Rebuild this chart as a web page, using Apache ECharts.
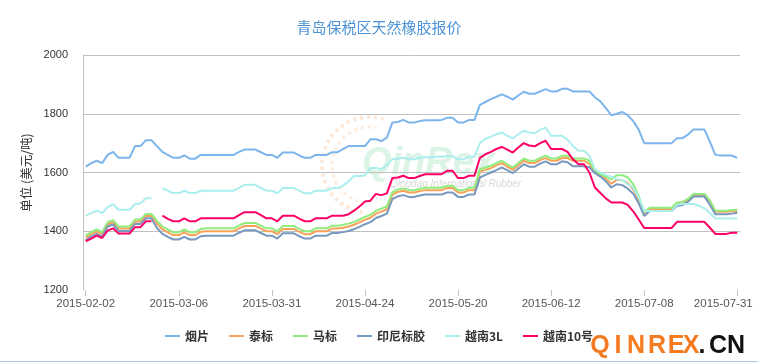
<!DOCTYPE html>
<html>
<head>
<meta charset="utf-8">
<script src="https://cdn.jsdelivr.net/npm/echarts@6/dist/echarts.min.js"></script>
<style>
html,body{margin:0;padding:0;background:#fff;}
#chart{width:758px;height:362px;}
</style>
</head>
<body>
<div id="chart"></div>
<script>
const dates = [
'2015-02-02','2015-02-03','2015-02-04','2015-02-05','2015-02-06','2015-02-09','2015-02-10','2015-02-11','2015-02-12','2015-02-13',
'2015-02-25','2015-02-26','2015-02-27','2015-03-02','2015-03-03','2015-03-04','2015-03-05','2015-03-06',
'2015-03-09','2015-03-10','2015-03-11','2015-03-12','2015-03-13','2015-03-16','2015-03-17','2015-03-18','2015-03-19','2015-03-20',
'2015-03-23','2015-03-24','2015-03-25','2015-03-26','2015-03-27','2015-03-30','2015-03-31',
'2015-04-01','2015-04-02','2015-04-03','2015-04-07','2015-04-08','2015-04-09','2015-04-10','2015-04-13','2015-04-14','2015-04-15',
'2015-04-16','2015-04-17','2015-04-20','2015-04-21','2015-04-22','2015-04-23','2015-04-24',
'2015-04-27','2015-04-28','2015-04-29','2015-04-30','2015-05-04','2015-05-05','2015-05-06','2015-05-07','2015-05-08',
'2015-05-11','2015-05-12','2015-05-13','2015-05-14','2015-05-15','2015-05-18','2015-05-19','2015-05-20',
'2015-05-21','2015-05-22','2015-05-25','2015-05-26','2015-05-27','2015-05-28','2015-05-29','2015-06-01','2015-06-02',
'2015-06-03','2015-06-04','2015-06-05','2015-06-08','2015-06-09','2015-06-10','2015-06-11','2015-06-12',
'2015-06-15','2015-06-16','2015-06-17','2015-06-18','2015-06-19','2015-06-23','2015-06-24','2015-06-25','2015-06-26',
'2015-06-29','2015-06-30','2015-07-01','2015-07-02','2015-07-03','2015-07-06','2015-07-07','2015-07-08',
'2015-07-09','2015-07-10','2015-07-13','2015-07-14','2015-07-15','2015-07-16','2015-07-17','2015-07-20','2015-07-21',
'2015-07-22','2015-07-23','2015-07-24','2015-07-27','2015-07-28','2015-07-29','2015-07-30','2015-07-31'
];

const seriesNames = ['烟片','泰标','马标','印尼标胶','越南3L','越南10号'];
const yAxisTicks = [1200, 1400, 1600, 1800, 2000];

const yanpian = [
1620,1632,1640,1632,1660,1670,1650,1650,1650,1690,1690,1710,1710,1690,1670,1660,1650,1650,
1658,1647,1647,1660,1660,1660,1660,1660,1660,1660,1670,1678,1678,1678,1669,1660,1660,
1650,1668,1668,1668,1658,1650,1650,1660,1660,1660,1669,1669,1680,1690,1690,1690,1690,
1713,1713,1707,1719,1770,1772,1779,1770,1770,1775,1778,1778,1778,1779,1786,1786,1770,
1770,1779,1779,1830,1840,1850,1858,1866,1858,1848,1862,1875,1868,1868,1876,1884,1876,
1876,1885,1885,1876,1876,1876,1876,1856,1842,1819,1795,1800,1806,1795,1775,1746,1700,
1700,1700,1700,1700,1700,1717,1717,1729,1746,1746,1746,1705,1660,1658,1658,1658,1650
];
const taibiao = [
1378,1390,1399,1390,1424,1431,1409,1409,1409,1433,1433,1452,1452,1426,1406,1396,1387,1387,
1396,1387,1387,1398,1400,1400,1400,1400,1400,1400,1410,1418,1418,1418,1409,1400,1400,
1390,1408,1408,1408,1398,1390,1390,1400,1400,1400,1409,1409,1412,1416,1422,1430,1439,
1446,1460,1467,1475,1524,1534,1538,1532,1532,1537,1540,1540,1540,1540,1547,1547,1532,
1532,1540,1540,1603,1609,1615,1624,1632,1620,1609,1624,1640,1632,1632,1642,1649,1640,
1640,1649,1649,1640,1640,1640,1629,1602,1590,1578,1562,1575,1574,1564,1544,1507,1461,
1476,1476,1476,1476,1476,1494,1496,1506,1523,1523,1523,1501,1466,1466,1466,1468,1469
];
const mabiao = [
1385,1397,1406,1397,1431,1438,1416,1416,1416,1440,1440,1459,1459,1436,1416,1406,1397,1397,
1406,1397,1397,1408,1410,1410,1410,1410,1410,1410,1420,1428,1428,1428,1419,1410,1410,
1400,1418,1418,1418,1408,1400,1400,1410,1410,1410,1419,1419,1422,1426,1432,1440,1449,
1456,1470,1477,1485,1532,1542,1546,1540,1540,1545,1548,1548,1548,1548,1555,1555,1540,
1540,1548,1548,1611,1617,1623,1632,1640,1628,1617,1632,1648,1640,1640,1650,1657,1648,
1648,1657,1657,1648,1648,1648,1640,1606,1594,1586,1576,1591,1591,1583,1560,1520,1465,
1480,1480,1480,1480,1480,1498,1500,1510,1527,1527,1527,1505,1470,1470,1470,1472,1473
];
const yinni = [
1370,1382,1391,1382,1416,1423,1401,1401,1401,1425,1425,1444,1444,1411,1391,1381,1372,1372,
1381,1372,1372,1383,1385,1385,1385,1385,1385,1385,1395,1403,1403,1403,1394,1385,1385,
1375,1393,1393,1393,1383,1375,1375,1385,1385,1385,1394,1394,1397,1401,1407,1415,1424,
1431,1445,1452,1460,1509,1519,1523,1517,1517,1522,1525,1525,1525,1525,1532,1532,1517,
1517,1525,1525,1583,1592,1600,1608,1617,1608,1598,1613,1628,1620,1620,1630,1638,1628,
1628,1638,1635,1621,1621,1621,1618,1598,1586,1570,1549,1560,1557,1545,1528,1495,1452,
1469,1469,1469,1469,1469,1486,1489,1500,1518,1518,1518,1490,1458,1458,1458,1460,1463
];
const yuenan3L = [
1453,1462,1470,1462,1482,1492,1473,1473,1473,1492,1495,1512,1512,null,1547,1538,1530,1530,
1538,1530,1530,1538,1538,1538,1538,1538,1538,1538,1548,1558,1558,1558,1548,1538,1538,
1529,1547,1547,1547,1538,1529,1529,1538,1538,1538,1547,1547,1555,1570,1588,1588,1590,
1615,1615,1612,1626,1645,1647,1650,1645,1645,1650,1652,1652,1654,1654,1656,1656,1645,
1645,1654,1654,1700,1715,1722,1730,1736,1725,1716,1730,1742,1736,1734,1745,1753,1725,
1725,1725,1712,1690,1674,1674,1657,1611,1600,1592,1586,1577,1574,1560,1549,1515,1469,
1469,1469,1469,1469,1469,1490,1493,1493,1493,1487,1478,1462,1443,1443,1443,1443,1443
];
const yuenan10 = [
1366,1375,1385,1377,1402,1410,1392,1392,1392,1414,1414,1434,1434,null,1453,1442,1434,1434,
1444,1434,1434,1444,1444,1444,1444,1444,1444,1444,1455,1465,1465,1465,1455,1444,1444,
1434,1453,1453,1453,1443,1434,1434,1444,1444,1444,1453,1453,1453,1458,1470,1484,1501,
1504,1527,1523,1529,1581,1583,1589,1581,1581,1588,1594,1594,1594,1594,1606,1606,1581,
1581,1589,1589,1650,1662,1670,1680,1687,1678,1668,1685,1700,1692,1689,1700,1708,1680,
1680,1680,1670,1645,1628,1628,1600,1549,1530,1512,1498,1498,1498,1490,1468,1440,1411,
1411,1411,1411,1411,1411,1432,1432,1432,1432,1432,1432,1412,1391,1391,1391,1395,1395
];

const seriesData = [yanpian, taibiao, mabiao, yinni, yuenan3L, yuenan10];
const colors = ['#7cb5ec', '#f7a35c', '#90ed7d', '#7798bf', '#aaeeee', '#ff0066'];

const chart = echarts.init(document.getElementById('chart'), null, {renderer: 'canvas'});

const brand = ['Q','I','N','R','E','X','.','C','N'];
const brandX = [600, 618, 636, 657, 676, 691, 702, 718, 736];
const brandGraphics = brand.map((ch, i) => ({
  type: 'text',
  x: brandX[i], y: 346, z: 100,
  style: {
    text: ch,
    fill: i < 6 ? '#f47b20' : '#111',
    font: 'bold 25px "Liberation Sans", Arial, sans-serif',
    align: 'center', verticalAlign: 'middle'
  }
}));

const option = {
  animation: false,
  color: colors,
  textStyle: {fontFamily: '"Liberation Sans", "Noto Sans CJK SC", sans-serif'},
  title: {
    text: '青岛保税区天然橡胶报价',
    left: 'center',
    top: 15,
    textStyle: {fontSize: 15, fontWeight: 'normal', color: '#4b92d6', fontFamily: '"Noto Sans CJK SC", sans-serif'}
  },
  legend: {
    data: seriesNames,
    left: 'center',
    top: 325,
    icon: 'rect',
    itemWidth: 15,
    itemHeight: 2,
    itemGap: 20,
    textStyle: {fontSize: 12, fontWeight: 'bold', color: '#333', fontFamily: '"Noto Sans CJK SC", sans-serif'}
  },
  grid: {left: 83, right: 18, top: 55, bottom: 72, containLabel: false},
  xAxis: {
    type: 'category',
    boundaryGap: true,
    data: dates.map((d, i) => i === dates.length - 1 ? {value: d, textStyle: {padding: [0, 28, 0, 0]}} : d),
    axisLine: {show: false},
    axisTick: {show: true, alignWithLabel: true, interval: 16, length: 6, lineStyle: {color: '#c0c0c0'}},
    axisLabel: {interval: 16, fontSize: 11.5, color: '#555', margin: 8},
    splitLine: {show: false}
  },
  yAxis: {
    type: 'value',
    min: yAxisTicks[0],
    max: yAxisTicks[yAxisTicks.length - 1],
    interval: 200,
    name: '单位 (美元/吨)',
    nameLocation: 'middle',
    nameRotate: 90,
    nameGap: 46,
    nameTextStyle: {fontSize: 12.5, color: '#333', fontFamily: '"Noto Sans CJK SC", sans-serif'},
    axisLine: {show: true, lineStyle: {color: '#c0c0c0'}},
    axisTick: {show: false},
    axisLabel: {fontSize: 11, color: '#333', margin: 15, formatter: v => String(v)},
    splitLine: {show: true, lineStyle: {color: ['rgba(0,0,0,0)', '#c0c0c0', '#c0c0c0', '#c0c0c0', '#c0c0c0']}}
  },
  graphic: [
    {type: 'text', x: 362, y: 145, z: 0, silent: true,
     style: {text: 'QinRex', font: 'italic bold 38px "Liberation Sans", Arial, sans-serif', fill: 'rgba(175,230,200,0.45)'}},
    {type: 'text', x: 390, y: 179, z: 0, silent: true,
     style: {text: 'Qingdao International Rubber', font: 'italic 10px "Liberation Sans", Arial, sans-serif', fill: 'rgba(190,190,190,0.6)'}},
    {type: 'arc', z: 0, silent: true, shape: {cx: 370, cy: 165, r: 48, startAngle: Math.PI * 0.55, endAngle: Math.PI * 1.6},
     style: {stroke: 'rgba(250,190,140,0.35)', lineWidth: 4, lineDash: [3, 4], fill: null}},
    {type: 'arc', z: 0, silent: true, shape: {cx: 370, cy: 165, r: 38, startAngle: Math.PI * 0.6, endAngle: Math.PI * 1.55},
     style: {stroke: 'rgba(250,190,140,0.3)', lineWidth: 3, lineDash: [3, 4], fill: null}},
    {type: 'line', z: 0, silent: true, shape: {x1: 0, y1: 361.5, x2: 758, y2: 361.5},
     style: {stroke: '#a8c8ee', lineWidth: 1}}
  ].concat(brandGraphics),
  series: seriesNames.map((name, i) => ({
    name: name,
    type: 'line',
    data: seriesData[i],
    showSymbol: false,
    symbol: 'none',
    connectNulls: false,
    lineStyle: {width: 2, color: colors[i]},
    itemStyle: {color: colors[i]},
    emphasis: {disabled: true},
    z: 2 + i
  }))
};

chart.setOption(option);
</script>
</body>
</html>
